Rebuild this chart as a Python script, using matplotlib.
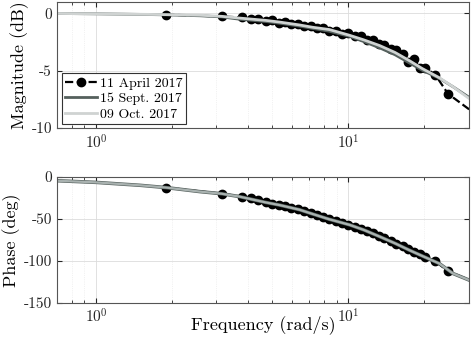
import matplotlib
matplotlib.use('Agg')
import matplotlib.pyplot as plt
from matplotlib.ticker import FixedLocator, FixedFormatter, LogLocator, NullFormatter

plt.rcParams['font.family'] = 'serif'
plt.rcParams['font.serif'] = ['cmr10', 'DejaVu Serif']
plt.rcParams['mathtext.fontset'] = 'cm'
plt.rcParams['axes.formatter.use_mathtext'] = True

# measured points, 11 April 2017
freq_apr = [1.9, 3.15, 3.8, 4.1, 4.4, 4.7, 5.0, 5.3, 5.6, 5.95, 6.3, 6.7, 7.1, 7.5,
            7.9, 8.4, 8.9, 9.4, 10.0, 10.6, 11.2, 11.8, 12.5, 13.2, 13.9, 14.7,
            15.5, 16.4, 17.3, 18.2, 19.2, 20.2, 22.1, 24.8, 32.0]
mag_apr = [-0.1, -0.26, -0.35, -0.5, -0.45, -0.65, -0.6, -0.8, -0.75, -0.95, -0.9,
           -1.1, -1.05, -1.3, -1.25, -1.5, -1.5, -1.75, -1.7, -2.0, -2.0, -2.3,
           -2.35, -2.65, -2.75, -3.1, -3.2, -3.55, -4.2, -4.0, -4.75, -4.75,
           -5.35, -7.0, -8.8]
phase_apr = [-12.7, -20, -23.5, -25.5, -28, -30.3, -31.8, -33.3, -34.8, -36.5, -38.3,
             -40.6, -43, -45.5, -47.8, -50.4, -52.5, -54.5, -56.7, -59.2, -61.6,
             -64, -67, -70.3, -73, -76.5, -79.5, -82.5, -86.3, -89, -92.3, -95,
             -100.5, -112, -126]

# fitted responses, 15 Sept. and 09 Oct. 2017
freq_fit = [0.7, 1.0, 1.5, 1.9, 2.58, 3.15, 3.7, 4.7, 5.34, 6.4, 7.2, 8.4, 10.1,
            11.5, 13.3, 15.3, 17.4, 19.6, 22.9, 26.0, 30.0]
mag_sep = [0.0, -0.03, -0.08, -0.12, -0.2, -0.3, -0.5, -0.7, -0.85, -1.1, -1.3,
           -1.55, -2.0, -2.45, -3.0, -3.6, -4.3, -4.95, -5.65, -6.4, -7.3]
mag_oct = [0.0, -0.03, -0.07, -0.1, -0.15, -0.25, -0.4, -0.6, -0.75, -1.0, -1.2,
           -1.4, -1.9, -2.3, -2.8, -3.4, -4.1, -4.8, -5.6, -6.4, -7.4]
phase_sep = [-4.5, -6.5, -10, -12.7, -17.5, -20, -23.4, -30.3, -33.5, -39, -44,
             -50.4, -57, -63, -71, -79, -87, -94, -103, -115, -122.6]
phase_oct = [-4.5, -6.5, -10, -12.7, -17.5, -20, -23.4, -30.3, -33.5, -39, -44,
             -50.4, -57, -63, -71, -79, -87, -94, -103, -115, -122.6]

labels = ['11 April 2017', '15 Sept. 2017', '09 Oct. 2017']
mag_ticks = [0, -5, -10]
phase_ticks = [0, -50, -100, -150]

fig = plt.figure(figsize=(4.74, 3.37), dpi=100)
ax1 = fig.add_axes([0.120, 0.620, 0.869, 0.374])
ax2 = fig.add_axes([0.120, 0.101, 0.869, 0.374])

def style(ax, ticks, ylim):
    ax.set_xscale('log')
    ax.set_xlim(0.7, 30)
    ax.set_ylim(*ylim)
    ax.yaxis.set_major_locator(FixedLocator(ticks))
    ax.yaxis.set_major_formatter(FixedFormatter([str(t) for t in ticks]))
    ax.xaxis.set_major_locator(LogLocator(base=10))
    ax.xaxis.set_minor_locator(LogLocator(base=10, subs=range(2, 10)))
    ax.xaxis.set_minor_formatter(NullFormatter())
    ax.grid(True, which='major', color='#dcdcdc', lw=0.6)
    ax.grid(True, which='minor', axis='x', color='#e6e6e6', lw=0.5, ls=':')
    ax.set_axisbelow(True)
    ax.tick_params(which='both', direction='in', top=True, right=True,
                   colors='#262626', labelsize=11)
    ax.tick_params(which='major', length=3.5)
    ax.tick_params(which='minor', length=2)
    for s in ax.spines.values():
        s.set_color('#555555')
        s.set_linewidth(0.8)

ax1.plot(freq_apr, mag_apr, '--o', color='black', lw=1.6, ms=6, label=labels[0])
ax1.plot(freq_fit, mag_sep, '-', color='#55605d', lw=2, label=labels[1])
ax1.plot(freq_fit, mag_oct, '-', color='#cfd3d2', lw=2, label=labels[2])
style(ax1, mag_ticks, (-10, 1))
ax1.set_ylabel('Magnitude (dB)', fontsize=13, labelpad=2)
leg = ax1.legend(loc='lower left', bbox_to_anchor=(0.005, 0.01), fontsize=10,
                 frameon=True, fancybox=False, edgecolor='#333333', framealpha=1,
                 borderpad=0.25, labelspacing=0.2, handlelength=2.3,
                 handletextpad=0.2, borderaxespad=0.2)
leg.get_frame().set_linewidth(0.8)

ax2.plot(freq_apr, phase_apr, '--o', color='black', lw=1.6, ms=6)
ax2.plot(freq_fit, phase_sep, '-', color='#55605d', lw=2.5)
ax2.plot(freq_fit, phase_oct, '-', color='#a9b2b0', lw=1.6)
style(ax2, phase_ticks, (-150, 0))
ax2.set_ylabel('Phase (deg)', fontsize=13, labelpad=2)
ax2.set_xlabel('Frequency (rad/s)', fontsize=13, labelpad=-8)

fig.savefig('out.png', dpi=100)
